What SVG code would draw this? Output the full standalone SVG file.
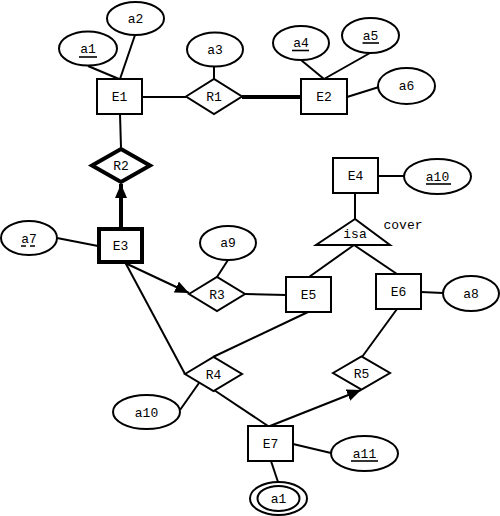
<svg xmlns="http://www.w3.org/2000/svg" width="500" height="516" viewBox="0 0 500 516">
<style>
text{font-family:"Liberation Mono","DejaVu Sans Mono",monospace;font-size:13px;text-anchor:middle;fill:#000}
.s{fill:#fff;stroke:#000;stroke-width:2}
.w{fill:#fff;stroke:#000;stroke-width:4}
.c line,.c path{stroke:#000;stroke-width:2;fill:none}
.c .t{stroke-width:4}
.u{stroke:#000;stroke-width:1.6}
</style>
<defs>
<marker id="arr" viewBox="0 0 14 12" refX="14" refY="6" markerWidth="14" markerHeight="12" markerUnits="userSpaceOnUse" orient="auto">
<path d="M0,0 L14,6 L0,12 z" fill="#000"/>
</marker>
</defs>
<rect width="500" height="516" fill="#fff"/>
<g class="c" id="connectors">
<line x1="88" y1="66" x2="119" y2="79"/>
<line x1="135" y1="35" x2="120" y2="79"/>
<line x1="142" y1="97" x2="186" y2="97"/>
<line x1="214" y1="66" x2="214" y2="79"/>
<line class="t" x1="242" y1="97" x2="301" y2="97"/>
<line x1="301" y1="60" x2="324" y2="79"/>
<line x1="370" y1="53" x2="324" y2="79"/>
<line x1="347" y1="97" x2="379" y2="87"/>
<line x1="120" y1="114" x2="121" y2="148"/>
<line class="t" x1="121" y1="228" x2="121" y2="184" marker-end="url(#arr)"/>
<line x1="57" y1="238" x2="98" y2="246"/>
<line x1="123" y1="262" x2="189" y2="293" marker-end="url(#arr)"/>
<line x1="228" y1="260" x2="217" y2="277"/>
<line x1="245" y1="294" x2="286" y2="295"/>
<line x1="378" y1="176" x2="404" y2="176"/>
<line x1="355" y1="193" x2="355" y2="219"/>
<line x1="354" y1="245" x2="309" y2="277"/>
<line x1="354" y1="245" x2="397" y2="274"/>
<line x1="421" y1="292" x2="443" y2="293"/>
<line x1="125" y1="262" x2="185" y2="374"/>
<line x1="308" y1="312" x2="213" y2="357"/>
<line x1="397" y1="309" x2="362" y2="357"/>
<line x1="199" y1="383" x2="180" y2="410"/>
<line x1="214" y1="390" x2="268" y2="426"/>
<line x1="270" y1="426" x2="361" y2="390" marker-end="url(#arr)"/>
<line x1="293" y1="444" x2="331" y2="453"/>
<line x1="271" y1="461" x2="278" y2="482"/>
</g>
<g id="a1"><ellipse class="s" cx="88" cy="48.5" rx="29" ry="17"/><text x="88" y="53">a1</text><line class="u" x1="79" y1="57" x2="97" y2="57"/></g>
<g id="a2"><ellipse class="s" cx="135.5" cy="18.5" rx="28.5" ry="16.5"/><text x="135.5" y="23">a2</text></g>
<g id="a3"><ellipse class="s" cx="215" cy="49.5" rx="28" ry="17"/><text x="215" y="54">a3</text></g>
<g id="E1"><rect class="s" x="97" y="79" width="45" height="35"/><text x="119.5" y="101">E1</text></g>
<g id="R1"><path class="s" d="M186,96.5 L214,79 L242,96.5 L214,114 z"/><text x="214" y="101">R1</text></g>
<g id="E2"><rect class="s" x="301" y="79" width="46" height="35"/><text x="324" y="101">E2</text></g>
<g id="a4"><ellipse class="s" cx="301" cy="43" rx="28" ry="17"/><text x="301" y="47">a4</text><line class="u" x1="292" y1="50.5" x2="309" y2="50.5"/></g>
<g id="a5"><ellipse class="s" cx="370.5" cy="35.5" rx="28.5" ry="17.5"/><text x="370.5" y="39.5">a5</text><line class="u" x1="362.5" y1="43" x2="379" y2="43"/></g>
<g id="a6"><ellipse class="s" cx="406.5" cy="86" rx="28.5" ry="18"/><text x="406.5" y="90">a6</text></g>
<g id="R2"><path class="w" d="M92,165.5 L121,149 L150,165.5 L121,182 z"/><text x="121" y="170">R2</text></g>
<g id="E3"><rect class="w" x="99" y="229" width="43" height="33"/><text x="120.5" y="250">E3</text></g>
<g id="a7"><ellipse class="s" cx="29" cy="238" rx="28" ry="17"/><text x="29" y="242.5">a7</text><line class="u" x1="21" y1="246" x2="37" y2="246" stroke-dasharray="5,4"/></g>
<g id="E4"><rect class="s" x="333" y="158" width="45" height="35"/><text x="355.5" y="180">E4</text></g>
<g id="a10"><ellipse class="s" cx="437.5" cy="176.5" rx="33.5" ry="17.5"/><text x="437.5" y="180.5">a10</text><line class="u" x1="426" y1="184" x2="451" y2="184"/></g>
<g id="isa"><path class="s" d="M355,219 L316,245 L390,245 z"/><text x="355" y="238">isa</text><text x="403" y="229">cover</text></g>
<g id="a9"><ellipse class="s" cx="228" cy="243" rx="28" ry="17"/><text x="228" y="247">a9</text></g>
<g id="R3"><path class="s" d="M189,294 L217,277 L245,294 L217,311 z"/><text x="217" y="298.5">R3</text></g>
<g id="E5"><rect class="s" x="286" y="277" width="45" height="35"/><text x="308.5" y="299">E5</text></g>
<g id="E6"><rect class="s" x="376" y="274" width="45" height="35"/><text x="398.5" y="296">E6</text></g>
<g id="a8"><ellipse class="s" cx="471" cy="293.5" rx="28" ry="17.5"/><text x="471" y="298">a8</text></g>
<g id="R4"><path class="s" d="M185,374 L213.5,357 L242,374 L213.5,391 z"/><text x="213.5" y="378.5">R4</text></g>
<g id="R5"><path class="s" d="M333,373 L361.5,356.5 L390,373 L361.5,389.5 z"/><text x="361.5" y="377.5">R5</text></g>
<g id="a10b"><ellipse class="s" cx="146.5" cy="412" rx="33.5" ry="17"/><text x="146.5" y="416.5">a10</text></g>
<g id="E7"><rect class="s" x="248" y="426" width="45" height="35"/><text x="270.5" y="448">E7</text></g>
<g id="a11"><ellipse class="s" cx="364.5" cy="453.5" rx="33.5" ry="17.5"/><text x="364.5" y="457.5">a11</text><line class="u" x1="351" y1="461" x2="378" y2="461"/></g>
<g id="a1b"><ellipse class="s" cx="278.5" cy="498.5" rx="28.5" ry="16.5"/><ellipse class="s" cx="278.5" cy="498.5" rx="21" ry="12.5"/><text x="278.5" y="503">a1</text></g>
</svg>
